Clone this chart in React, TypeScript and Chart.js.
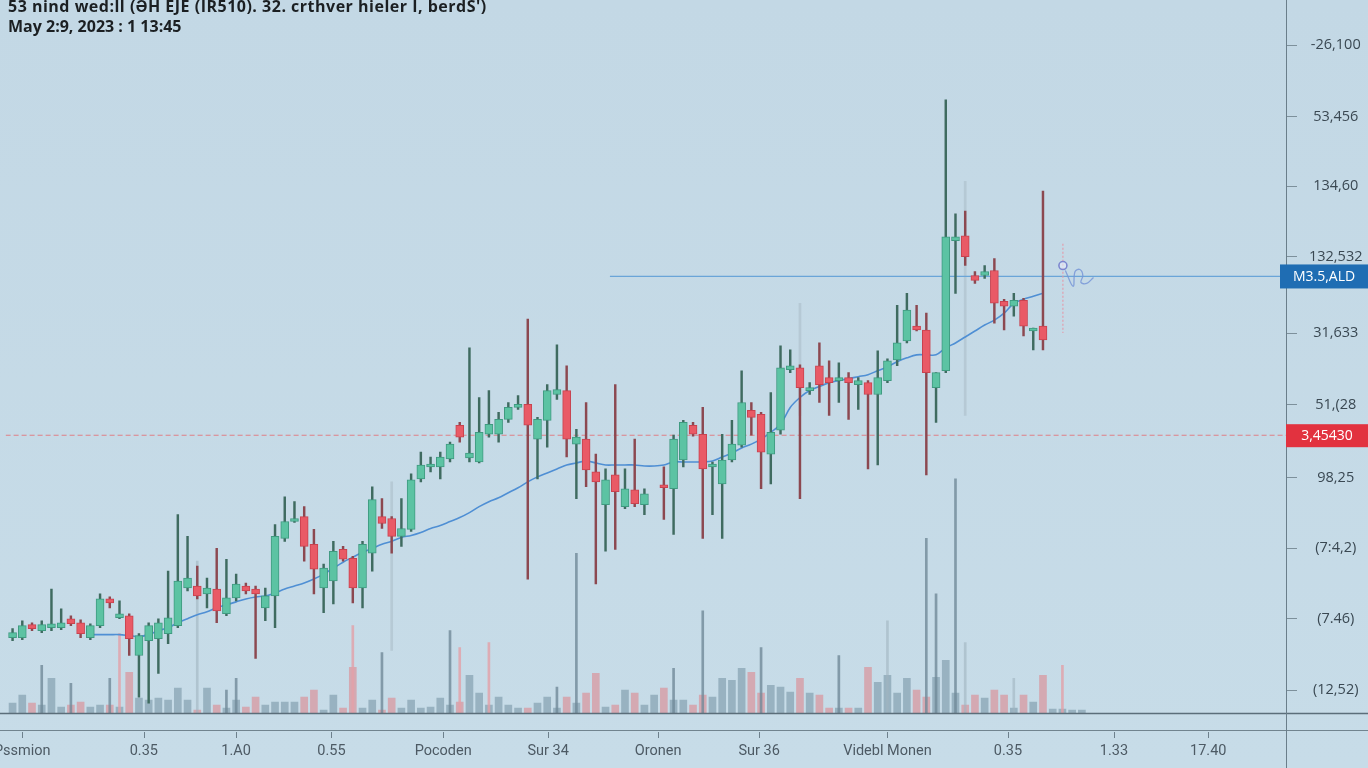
import React, { useEffect, useRef } from "react";
import { Chart, registerables } from "chart.js";
Chart.register(...registerables);

// ---- candle data (price units) ----
const opens = [76,76,89,83,86,86,95,91,76,88, 115,96,98,58,73,75,80,88,126,128, 120,125,100,116,128,125,106,118,176,193, 198,170,126,133,165,156,126,161,198,196, 178,185,236,248,248,256,290,257,253,281, 281,296,308,311,276,295,321,325,271,276, 243,210,240,208,225,210,null,230,226,255, 290,281,248,231,255,270,305,301,261,285, 346,348,325,350,338,335,338,331,333,321, 335,356,375,390,386,328,345,476,481,441, 441,446,415,410,416,385,390];
const highs = [85,93,91,93,125,105,98,94,90,120, 117,113,100,80,91,95,143,200,178,148, 136,166,155,140,131,128,126,190,218,213, 208,185,150,173,168,158,173,228,216,198, 216,241,263,258,263,273,293,368,318,325, 303,313,320,397,298,331,371,350,286,313, 261,246,331,246,276,226,null,248,280,295, 293,308,253,281,295,345,313,303,323,370, 366,351,333,373,355,353,343,338,335,365, 357,411,423,411,403,343,618,503,506,445, 451,458,417,423,418,388,526];
const lows = [73,74,83,81,83,84,88,76,74,86, 106,95,58,16,10,40,70,86,123,115, 106,91,98,113,120,55,93,86,173,192, 153,120,101,110,153,111,106,143,186,161, 168,183,233,243,236,253,273,253,252,278, 273,293,306,135,236,268,316,258,216,228, 130,163,165,206,208,200,null,195,180,248, 279,176,200,176,253,268,280,226,231,281, 343,216,321,313,300,313,296,306,246,250, 333,350,373,385,240,293,343,423,451,433, 438,393,386,400,380,366,366];
const closes = [81,88,85,89,90,91,90,80,88,115, 111,100,75,78,88,91,96,133,136,118, 126,103,116,130,123,120,118,178,193,196, 168,145,146,163,155,126,170,215,191,178, 186,235,250,251,258,271,278,262,283,291, 296,308,311,290,296,325,326,276,278,245, 233,235,223,226,211,221,null,227,276,293, 281,246,251,255,271,313,298,263,283,348, 350,328,328,331,333,338,333,335,321,338, 355,373,406,386,343,343,480,480,460,436, 445,413,410,416,390,388,376];

// moving average
const maValues = [null,null,null,null,null,null,null,null, 79,79,79,79,78,77,79,83,86,91,95,99, 102,106,109,112,115,117,118,121,125,128, 131,135,140,146,152,157,162,166,170,173, 177,179,182,186,189,193,197,202,208,213, 217,222,227,233,238,242,246,250,252,254, 252,250,250,250,250,249,249,250,253,253, 253,253,254,258,262,267,271,276,283,291, 308,318,325,329,333,335,337,339,341,345, 349,354,358,361,361,361,368,373,379,385, 391,396,403,413,417,420,423];

// volume
const volumes = [10,18,10,8,35,6,8,11,6,8, 8,6,41,15,13,15,13,25,13,3, 25,8,5,13,6,16,8,11,11,11, 16,23,3,18,5,46,5,13,3,15, 5,13,5,6,15,8,11,38,20,8, 16,8,5,5,10,16,5,16,10,20, 40,6,8,23,20,8,18,25,13,13, 8,18,16,35,33,45,41,20,28,26, 21,35,20,18,5,5,5,5,46,31, 38,20,35,23,16,36,53,20,8,18, 15,23,18,5,18,11,38,4,4,3,3];
const spikeIdx = [3,6,10,22,23,38,45,56,58,68,71,77,85,94,95,97];
const spikeVal = [48,30,35,23,35,61,83,26,161,45,103,66,58,176,120,236];
const faintIdx = [19,90,98,103];
const faintVal = [153,93,71,35];
const pinkIdx = [11,35,46,49,108];
const pinkVal = [80,88,66,71,48];
const ghostIdx = [39,81,98];
const ghostLow = [63,300,300];
const ghostHigh = [233,413,536];

// levels
const blueLevel = 440;
const blueLevelStart = 61.45;
const blueLevelLabel = "M3.5,ALD";
const redLevel = 280;
const redLevelLabel = "3,45430";
const markerX = [108.05];
const markerY = [451];
const markerStemX = [108.05, 108.05];
const markerStemY = [473, 383];
const curlX = [108.3, 109.1, 109.3, 109.8, 110.1, 109.9, 110.5, 111.2];
const curlY = [446, 430, 445, 447, 441, 434, 433, 439];

// axes
const yTickValues = [673, 601, 531, 460, 383, 311, 237, 166, 95, 23];
const yTickLabels = ["-26,100", "53,456", "134,60", "132,532", "31,633", "51,(28", "98,25", "(7:4,2)", "(7.46)", "(12,52)"];
const xTickValues = [1, 13.5, 23.0, 32.8, 44.3, 55.1, 66.4, 76.8, 90.0, 102.4, 113.3, 123.0];
const xTickLabels = ["Pssmion", "0.35", "1.A0", "0.55", "Pocoden", "Sur 34", "Oronen", "Sur 36", "Videbl Monen", "0.35", "1.33", "17.40"];
const titleLine1 = "53 nind wed:ll (ƏH EJE (IR510). 32. crthver hieler I, berdS')";
const titleLine2 = "May 2:9, 2023 : 1 13:45";

const X_MIN = -0.717;
const X_MAX = 131.0;

const GREEN = "#5cc3a3";
const GREEN_B = "#3f9a80";
const GREEN_W = "#3f6b60";
const RED = "#e95a66";
const RED_B = "#c9424f";
const RED_W = "#8c4850";

export default function App() {
  const ref = useRef<HTMLCanvasElement | null>(null);

  useEffect(() => {
    if (!ref.current) return;
    const idx = opens.map((_, i) => i).filter((i) => opens[i] !== null);
    const up = (i: number) => (closes[i] as number) >= (opens[i] as number);

    const bodies = idx.map((i) => ({ x: i, y: [Math.min(opens[i] as number, closes[i] as number), Math.max(opens[i] as number, closes[i] as number)] }));
    const wicks = idx.map((i) => ({ x: i, y: [lows[i] as number, highs[i] as number] }));

    const volColors = volumes.map((_, i) =>
      i < opens.length && opens[i] !== null && !up(i) ? "rgba(214,160,168,0.85)" : "rgba(140,168,183,0.8)"
    );

    const overlay = {
      id: "overlay",
      beforeDraw(chart: any) {
        const { ctx, width, height } = chart;
        ctx.save();
        const g = ctx.createLinearGradient(0, 0, 0, height);
        g.addColorStop(0, "#c3d8e5");
        g.addColorStop(1, "#c7dce8");
        ctx.fillStyle = g;
        ctx.fillRect(0, 0, width, height);
        ctx.restore();
      },
      afterDraw(chart: any) {
        const { ctx, chartArea, width, height } = chart;
        const xs = chart.scales.x;
        const ys = chart.scales.y;
        ctx.save();
        ctx.strokeStyle = "#5b6e7a";
        ctx.lineWidth = 1.6;
        ctx.beginPath();
        ctx.moveTo(0, chartArea.bottom + 0.5);
        ctx.lineTo(width, chartArea.bottom + 0.5);
        ctx.stroke();
        ctx.strokeStyle = "#71848f";
        ctx.lineWidth = 1;
        ctx.beginPath();
        ctx.moveTo(0, chartArea.bottom + 17.5);
        ctx.lineTo(width, chartArea.bottom + 17.5);
        ctx.stroke();
        ctx.strokeStyle = "#6d808c";
        xTickValues.forEach((v) => {
          const px = Math.round(xs.getPixelForValue(v)) + 0.5;
          ctx.beginPath();
          ctx.moveTo(px, chartArea.bottom + 19);
          ctx.lineTo(px, chartArea.bottom + 25);
          ctx.stroke();
        });
        ctx.strokeStyle = "#6a7e8a";
        ctx.beginPath();
        ctx.moveTo(chartArea.right + 0.5, 0);
        ctx.lineTo(chartArea.right + 0.5, height);
        ctx.stroke();
        ctx.font = '14px "Open Sans", sans-serif';
        ctx.textAlign = "center";
        ctx.textBaseline = "middle";
        const by = ys.getPixelForValue(blueLevel);
        ctx.fillStyle = "#1f6db3";
        ctx.fillRect(chartArea.right - 6, by - 12, width - chartArea.right + 6, 24);
        ctx.fillStyle = "#ffffff";
        ctx.fillText(blueLevelLabel, (chartArea.right - 6 + width) / 2, by + 1);
        const ry = ys.getPixelForValue(redLevel);
        ctx.fillStyle = "#e2323f";
        ctx.fillRect(chartArea.right, ry - 11, width - chartArea.right, 23);
        ctx.fillStyle = "#ffffff";
        ctx.fillText(redLevelLabel, (chartArea.right + width) / 2, ry + 1);
        ctx.restore();
      },
    };

    const chart = new Chart(ref.current, {
      type: "bar",
      data: {
        datasets: [
          {
            type: "bar",
            label: "vol",
            data: volumes.map((v, i) => ({ x: i, y: v })),
            yAxisID: "vol",
            backgroundColor: volColors,
            barThickness: 7,
            grouped: false,
            order: 20,
          } as any,
          {
            type: "bar",
            label: "spikes",
            data: spikeIdx.map((i, k) => ({ x: i, y: spikeVal[k] })),
            yAxisID: "vol",
            backgroundColor: "rgba(112,138,152,0.8)",
            barThickness: 2,
            grouped: false,
            order: 19,
          } as any,
          {
            type: "bar",
            label: "faint",
            data: faintIdx.map((i, k) => ({ x: i, y: faintVal[k] })),
            yAxisID: "vol",
            backgroundColor: "rgba(160,180,192,0.6)",
            barThickness: 2,
            grouped: false,
            order: 19,
          } as any,
          {
            type: "bar",
            label: "pink",
            data: pinkIdx.map((i, k) => ({ x: i, y: pinkVal[k] })),
            yAxisID: "vol",
            backgroundColor: "rgba(226,160,168,0.8)",
            barThickness: 2,
            grouped: false,
            order: 19,
          } as any,
          {
            type: "bar",
            label: "ghost",
            data: ghostIdx.map((i, k) => ({ x: i, y: [ghostLow[k], ghostHigh[k]] })),
            yAxisID: "y",
            backgroundColor: "rgba(170,188,198,0.55)",
            barThickness: 2,
            grouped: false,
            order: 18,
          } as any,
          {
            type: "line",
            label: "red level",
            data: [{ x: X_MIN, y: redLevel }, { x: X_MAX, y: redLevel }],
            yAxisID: "y",
            borderColor: "rgba(228,112,120,0.85)",
            borderWidth: 1.1,
            borderDash: [5, 3],
            pointRadius: 0,
            order: 15,
          } as any,
          {
            type: "line",
            label: "blue level",
            data: [{ x: blueLevelStart, y: blueLevel }, { x: X_MAX, y: blueLevel }],
            yAxisID: "y",
            borderColor: "#6aa5d8",
            borderWidth: 1.2,
            pointRadius: 0,
            order: 15,
          } as any,
          {
            type: "line",
            label: "MA",
            data: maValues.map((v, i) => ({ x: i, y: v })),
            yAxisID: "y",
            borderColor: "#4f8fd4",
            borderWidth: 1.6,
            pointRadius: 0,
            tension: 0.35,
            spanGaps: false,
            order: 10,
          } as any,
          {
            type: "bar",
            label: "wicks",
            data: wicks,
            yAxisID: "y",
            backgroundColor: idx.map((i) => (up(i) ? GREEN_W : RED_W)),
            barThickness: 1.8,
            grouped: false,
            order: 5,
          } as any,
          {
            type: "bar",
            label: "bodies",
            data: bodies,
            yAxisID: "y",
            backgroundColor: idx.map((i) => (up(i) ? GREEN : RED)),
            borderColor: idx.map((i) => (up(i) ? GREEN_B : RED_B)),
            borderWidth: 1,
            borderSkipped: false,
            barThickness: 8,
            grouped: false,
            order: 4,
          } as any,
          {
            type: "line",
            label: "stem",
            data: markerStemX.map((x, k) => ({ x, y: markerStemY[k] })),
            yAxisID: "y",
            borderColor: "rgba(228,150,165,0.9)",
            borderWidth: 1.2,
            borderDash: [2, 2],
            pointRadius: 0,
            order: 3,
          } as any,
          {
            type: "line",
            label: "curl",
            data: curlX.map((x, k) => ({ x, y: curlY[k] })),
            yAxisID: "y",
            borderColor: "rgba(120,150,215,0.85)",
            borderWidth: 1.3,
            pointRadius: 0,
            tension: 0.4,
            order: 2,
          } as any,
          {
            type: "scatter",
            label: "marker",
            data: markerX.map((x, k) => ({ x, y: markerY[k] })),
            yAxisID: "y",
            pointRadius: 4,
            pointBorderWidth: 1.6,
            pointBorderColor: "#7c86cf",
            pointBackgroundColor: "rgba(230,235,250,0.6)",
            order: 1,
          } as any,
        ],
      },
      options: {
        responsive: false,
        animation: false,
        events: [],
        layout: { padding: 0 },
        plugins: { legend: { display: false }, tooltip: { enabled: false }, title: { display: false } },
        scales: {
          x: {
            type: "linear",
            min: X_MIN,
            max: X_MAX,
            offset: false,
            grid: { display: false, drawTicks: false },
            border: { display: false },
            afterBuildTicks: (s: any) => {
              s.ticks = xTickValues.map((v) => ({ value: v }));
            },
            afterFit: (s: any) => {
              s.height = 55;
              s.paddingLeft = 0;
              s.paddingRight = 0;
            },
            ticks: {
              autoSkip: false,
              maxRotation: 0,
              padding: 30,
              color: "#4d5a64",
              font: { family: 'Roboto, sans-serif', size: 14.5 },
              callback: (_v: any, i: number) => xTickLabels[i],
            },
          } as any,
          y: {
            type: "linear",
            position: "right",
            min: 0,
            max: 713,
            grid: { drawOnChartArea: false, drawTicks: true, tickLength: 11, color: "#7d909b" },
            border: { display: false },
            afterBuildTicks: (s: any) => {
              s.ticks = yTickValues.map((v) => ({ value: v }));
            },
            afterFit: (s: any) => {
              s.width = 82;
              s.paddingTop = 0;
              s.paddingBottom = 0;
            },
            ticks: {
              crossAlign: "center",
              padding: 12,
              color: "#3a4852",
              font: { family: '"Open Sans", sans-serif', size: 14.5 },
              callback: (_v: any, i: number) => yTickLabels[i],
            },
          } as any,
          vol: {
            type: "linear",
            display: false,
            min: 0,
            max: 713,
          } as any,
        },
      },
      plugins: [overlay],
    });
    return () => chart.destroy();
  }, []);

  return (
    <div style={{ position: "fixed", left: 0, top: 0, width: 1368, height: 768, overflow: "hidden", background: "#c5dae6" }}>
      <canvas ref={ref} width={1368} height={768} style={{ position: "absolute", left: 0, top: 0 }} />
      <div
        style={{
          position: "absolute",
          left: 8,
          top: -4,
          fontFamily: '"Open Sans", sans-serif',
          fontWeight: 700,
          fontSize: 16,
          lineHeight: "20px",
          color: "#1b1f22",
          whiteSpace: "nowrap",
          letterSpacing: 0.5,
        }}
      >
        <div>{titleLine1}</div>
        <div style={{ letterSpacing: 0 }}>{titleLine2}</div>
      </div>
    </div>
  );
}
